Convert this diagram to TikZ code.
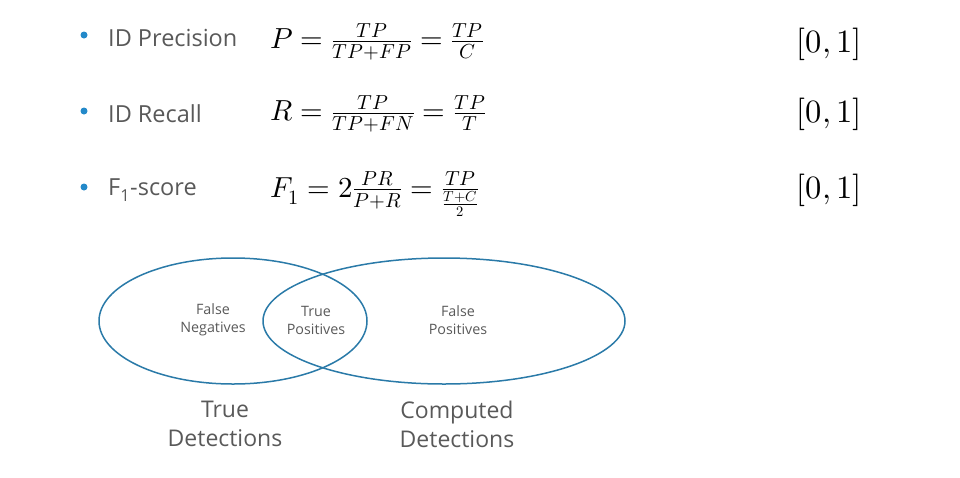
\documentclass[tikz,border=0pt]{standalone}
\usepackage{fontspec}
\setmainfont{Open Sans}
\usepackage{amsmath}
\usepackage{unicode-math}
\setmathfont{Latin Modern Math}
\definecolor{txt}{HTML}{595959}
\definecolor{eb}{HTML}{2A7AA8}
\definecolor{bul}{HTML}{2389C9}
\begin{document}
\begin{tikzpicture}[x=1pt,y=-1pt,
  lab/.style={anchor=west,text=txt,font=\fontsize{23.5}{28}\selectfont,inner sep=0},
  frm/.style={anchor=west,inner sep=0,font=\fontsize{29}{34}\selectfont},
  rng/.style={anchor=east,inner sep=0,font=\fontsize{32.5}{38}\selectfont},
  small/.style={align=center,text=txt,font=\fontsize{14.3}{18}\selectfont},
  big/.style={align=center,text=txt,font=\fontsize{23}{29}\selectfont},
  ell/.style={draw=eb,line width=1.5pt}]
\useasboundingbox (0,0) rectangle (960,477);
\fill[bul] (84,35) circle (3.5) (84,111) circle (3.5) (84,187) circle (3.5);
\node[lab] (l1) at (108,38) {ID Precision};
\node[lab] (l2) at (108,114) {ID Recall};
\node[lab] (l3) at (108,190) {F\textsubscript{1}-score};
\node[frm] (f1) at (270,42) {$P=\frac{TP}{TP+FP}=\frac{TP}{C}$};
\node[frm] (f2) at (270,114) {$R=\frac{TP}{TP+FN}=\frac{TP}{T}$};
\node[frm] (f3) at (270,194) {$F_1=2\frac{PR}{P+R}=\frac{TP}{\frac{T+C}{2}}$};
\node[rng] (r1) at (862,44) {$[0,1]$};
\node[rng] (r2) at (862,114) {$[0,1]$};
\node[rng] (r3) at (862,190) {$[0,1]$};
\draw[ell] (233,321) ellipse [x radius=134, y radius=63];
\draw[ell] (444,321) ellipse [x radius=181, y radius=63];
\node[small] (fn) at (213,320) {False\\Negatives};
\node[small] (tp) at (316,320) {True\\Positives};
\node[small] (fp) at (458,320) {False\\Positives};
\node[big] (td) at (225,424) {True\\Detections};
\node[big] (cd) at (457,424) {Computed\\Detections};
\end{tikzpicture}
\end{document}
